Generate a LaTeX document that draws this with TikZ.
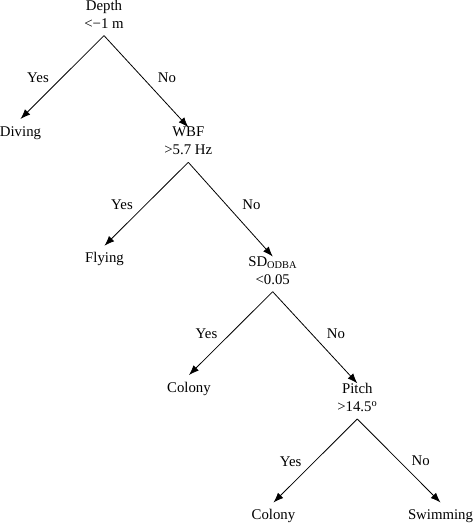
\documentclass[tikz,border=0pt]{standalone}
\usepackage{fontspec}
\setmainfont{Liberation Serif}
\usetikzlibrary{arrows.meta}
\begin{document}
\begin{tikzpicture}[x=1pt,y=-1pt,
  every node/.style={font=\fontsize{14.8}{18}\selectfont},
  decision/.style={anchor=south,align=center,inner sep=0pt,outer sep=0pt,text depth=7.4pt},
  leaf/.style={anchor=north,inner sep=0pt,outer sep=0pt,text height=17pt,text depth=4pt},
  branch/.style={inner sep=0pt},
  edge/.style={line width=0.8pt,-{Latex[length=10pt,width=7.5pt]}}]
\useasboundingbox (0,0) rectangle (474,523);
% decision nodes (anchor at apex)
\node[decision] (depth) at (104,35.6) {Depth\\<−1 m};
\node[decision] (wbf) at (188.3,162.3) {WBF\\>5.7 Hz};
\node[decision] (sd) at (272.7,291.7) {SD\textsubscript{ODBA}\\<0.05};
\node[decision] (pitch) at (357.3,419) {Pitch\\>14.5\textsuperscript{o}};
% leaves (anchor at arrow tip)
\node[leaf] (diving) at (20.5,119) {Diving};
\node[leaf] (flying) at (104.5,245.7) {Flying};
\node[leaf] (colony1) at (189,375) {Colony};
\node[leaf] (colony2) at (273.5,502.5) {Colony};
\node[leaf] (swimming) at (440.5,502.5) {Swimming};
% connectors
\draw[edge] (depth.south) -- (diving.north);
\draw[edge] (depth.south) -- (wbf.north);
\draw[edge] (wbf.south) -- (flying.north);
\draw[edge] (wbf.south) -- (sd.north);
\draw[edge] (sd.south) -- (colony1.north);
\draw[edge] (sd.south) -- (pitch.north);
\draw[edge] (pitch.south) -- (colony2.north);
\draw[edge] (pitch.south) -- (swimming.north);
% branch labels
\node[branch] (y1) at (38,78) {Yes};
\node[branch] (n1) at (167,78) {No};
\node[branch] (y2) at (122,205) {Yes};
\node[branch] (n2) at (251.5,205) {No};
\node[branch] (y3) at (206.5,334) {Yes};
\node[branch] (n3) at (336,334) {No};
\node[branch] (y4) at (290.7,461.5) {Yes};
\node[branch] (n4) at (420.7,461) {No};
\end{tikzpicture}
\end{document}
